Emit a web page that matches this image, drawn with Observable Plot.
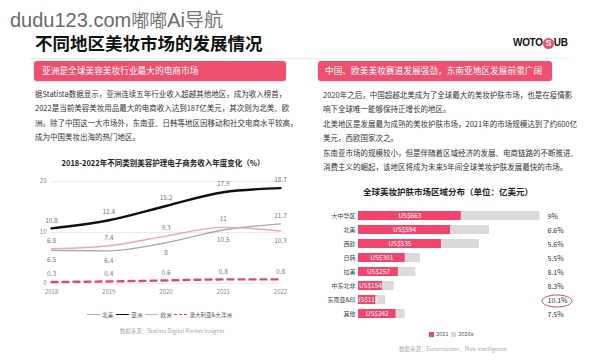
<!DOCTYPE html>
<html><head><meta charset="utf-8">
<script src="https://cdn.jsdelivr.net/npm/d3@7"></script>
<script src="https://cdn.jsdelivr.net/npm/@observablehq/plot@0.6"></script>
<style>
body{margin:0;background:#fff;}
#page{position:relative;width:600px;height:360px;background:#fff;overflow:hidden;font-family:"Noto Sans CJK SC","Noto Sans",sans-serif;}
.abs{position:absolute;white-space:nowrap;}
.banner{position:absolute;height:20px;line-height:20px;border-radius:3px;background:#f0506f;color:#fff;font-size:8.7px;box-shadow:0 1px 2px rgba(0,0,0,0.15);white-space:nowrap;}
.para{position:absolute;font-size:7.5px;color:#333;white-space:nowrap;}
.para div{height:14.4px;line-height:14.4px;}
.lg{display:inline-flex;align-items:center;margin-right:3px;}
.sw{display:inline-block;width:13px;margin-right:2px;}
.sq{display:inline-block;width:5px;height:5px;margin-right:2px;}
</style></head><body><div id="page">
<div class="abs" style="left:10px;top:11px;height:18px;font-family:'Liberation Sans','Noto Sans CJK SC',sans-serif;font-size:20px;line-height:18px;color:#6a6a6a;">dudu123.com<span style="font-size:18px;color:#777;">嘟嘟</span>Ai<span style="font-size:19px;color:#777;">导航</span></div>
<div class="abs" style="left:35px;top:34px;font-size:17.5px;line-height:18px;font-weight:700;color:#111;">不同地区美妆市场的发展情况</div>
<div class="abs" style="left:513px;top:37px;font-size:10px;line-height:12px;font-weight:900;color:#111;font-family:'Liberation Sans',sans-serif;letter-spacing:-0.3px;">WOTO<span style="display:inline-block;width:11px;height:11px;border-radius:50%;background:#ef4a72;color:#fff;text-align:center;line-height:11px;font-size:9px;">S</span>UB</div>
<div class="abs" style="left:30px;top:58px;width:540px;height:1px;background:linear-gradient(to right,#dde8ee,#eef3f6);"></div>

<div class="banner" style="left:34px;top:61px;width:244px;padding-left:8px;">亚洲是全球美容美妆行业最大的电商市场</div>
<div class="banner" style="left:318px;top:61px;width:227px;padding-left:7px;">中国、欧美美妆赛道发展强劲，东南亚地区发展前景广阔</div>

<div class="para" style="left:35px;top:87px;">
<div>据Statista数据显示，亚洲连续五年行业收入超越其他地区，成为收入榜首，</div>
<div>2022是当前美容美妆用品最大的电商收入达到187亿美元，其次则为北美、欧</div>
<div>洲。除了中国这一大市场外，东南亚、日韩等地区因移动和社交电商水平较高，</div>
<div>成为中国美妆出海的热门地区。</div>
</div>
<div class="para" style="left:323px;top:88px;">
<div>2020年之后，中国超越北美成为了全球最大的美妆护肤市场，也是在疫情影</div>
<div>响下全球唯一能够保持正增长的地区。</div>
<div>北美地区是发展最为成熟的美妆护肤市场，2021年的市场规模达到了约600亿</div>
<div>美元，西欧国家次之。</div>
<div>东南亚市场的规模较小，但是伴随着区域经济的发展、电商链路的不断推进、</div>
<div>消费主义的崛起，该地区将成为未来5年间全球美妆护肤发展最快的市场。</div>
</div>

<div class="abs" style="left:13px;width:300px;top:158px;text-align:center;font-size:7.5px;line-height:10px;font-weight:700;color:#222;">2018-2022年不同类别美容护理电子商务收入年度变化（%）</div>
<div id="lineChart" class="abs" style="left:0;top:170px;"></div>
<div id="lineLegend" class="abs" style="left:60px;width:202px;top:309px;text-align:center;font-size:5.5px;line-height:8px;color:#555;"></div>
<div class="abs" style="left:72px;width:200px;top:327px;text-align:center;font-size:5.5px;line-height:8px;color:#aaa;">数据来源：Statista Digital Market Insights</div>

<div class="abs" style="left:348px;width:200px;top:186px;text-align:center;font-size:8.5px;line-height:11px;font-weight:700;color:#222;">全球美妆护肤市场区域分布（单位：亿美元）</div>
<div id="barChart" class="abs" style="left:300px;top:200px;"></div>
<div id="barLegend" class="abs" style="left:403px;width:100px;top:330px;text-align:center;font-size:5.5px;line-height:8px;color:#555;"></div>
<div class="abs" style="left:353px;width:200px;top:345px;text-align:center;font-size:5.5px;line-height:8px;color:#aaa;">数据来源：Euromonitor，Mob intelligence</div>
</div>
<script>
// ---- line chart data ----
const years = [2018, 2019, 2020, 2021, 2022];
const seriesNames = ["北美", "亚洲", "欧洲", "澳大利亚&大洋洲"];
const northAmerica = [6.5, 6.4, 8, 10.5, 11.7];
const asia = [10.8, 12.4, 15.2, 17.9, 18.7];
const europe = [6.8, 7.4, 9.3, 11, 10.3];
const oceania = [0.3, 0.4, 0.6, 0.8, 0.8];
const yTicks = [0, 10, 20];

// ---- bar chart data ----
const regions = ["大中华区", "北美", "西欧", "日韩", "拉美", "中东北非", "东南亚&印", "其他"];
const value2021 = [663, 594, 535, 301, 257, 154, 111, 242];
const value2026 = [1170, 845, 780, 400, 370, 230, 175, 300];
const cagr = ["9%", "6.6%", "5.6%", "5.5%", "8.1%", "8.3%", "10.1%", "7.5%"];
const highlightRegion = "东南亚&印";
const barLegendLabels = ["2021", "2026e"];

const seriesValues = [northAmerica, asia, europe, oceania];
const seriesStyle = {
  "北美": {stroke: "#a9a9a9", strokeWidth: 1.4},
  "亚洲": {stroke: "#111111", strokeWidth: 2.4},
  "欧洲": {stroke: "#f3a3b6", strokeWidth: 1.4},
  "澳大利亚&大洋洲": {stroke: "#e2457a", strokeWidth: 2.4, strokeDasharray: "6,5"}
};

const rows = [];
seriesNames.forEach((s, i) => years.forEach((y, j) => {
  let above = true;
  if (s === "北美") above = northAmerica[j] >= europe[j];
  if (s === "欧洲") above = europe[j] > northAmerica[j];
  rows.push({series: s, year: y, value: seriesValues[i][j], above});
}));

const lineMarks = [Plot.gridY(yTicks, {stroke: "#ececec", strokeOpacity: 1})];
seriesNames.forEach(s => {
  lineMarks.push(Plot.line(rows.filter(r => r.series === s), {x: "year", y: "value", curve: "monotone-x", ...seriesStyle[s]}));
});
lineMarks.push(Plot.text(rows.filter(r => r.above), {x: "year", y: "value", text: d => String(d.value), dy: -8, fill: "#777", fontSize: 6.5}));
lineMarks.push(Plot.text(rows.filter(r => !r.above), {x: "year", y: "value", text: d => String(d.value), dy: 10, fill: "#777", fontSize: 6.5}));

const lineChart = Plot.plot({
  width: 300, height: 130,
  marginLeft: 51, marginRight: 20, marginTop: 11, marginBottom: 17,
  style: {fontFamily: "'Noto Sans CJK SC', sans-serif", fontSize: "6px", color: "#888", background: "transparent"},
  x: {domain: [2018, 2022], ticks: years, tickFormat: d => String(d), tickSize: 0, tickPadding: 6, label: null},
  y: {domain: [0, 20], ticks: yTicks, tickSize: 0, tickPadding: 5, label: null},
  marks: lineMarks
});
document.getElementById("lineChart").appendChild(lineChart);

// line legend
const lg = document.getElementById("lineLegend");
seriesNames.forEach(s => {
  const st = seriesStyle[s];
  const item = document.createElement("span");
  item.className = "lg";
  const sw = document.createElement("span");
  sw.className = "sw";
  sw.style.borderTop = `${Math.max(1, st.strokeWidth * 0.8)}px ${st.strokeDasharray ? "dashed" : "solid"} ${st.stroke}`;
  item.appendChild(sw);
  item.appendChild(document.createTextNode(s));
  lg.appendChild(item);
});

// bar chart
const bars = regions.map((r, i) => ({region: r, v2021: value2021[i], v2026: value2026[i], cagr: cagr[i]}));
const xMax = 1200;
const ellipseSymbol = {
  draw(ctx) {
    const rx = 15, ry = 6, k = 0.5523;
    ctx.moveTo(rx, 0);
    ctx.bezierCurveTo(rx, ry * k, rx * k, ry, 0, ry);
    ctx.bezierCurveTo(-rx * k, ry, -rx, ry * k, -rx, 0);
    ctx.bezierCurveTo(-rx, -ry * k, -rx * k, -ry, 0, -ry);
    ctx.bezierCurveTo(rx * k, -ry, rx, -ry * k, rx, 0);
    ctx.closePath();
  }
};
const barChart = Plot.plot({
  width: 300, height: 128,
  marginLeft: 58, marginRight: 56, marginTop: 4.4, marginBottom: 3.7,
  style: {fontFamily: "'Noto Sans CJK SC', sans-serif", fontSize: "6px", color: "#444", background: "transparent"},
  x: {domain: [0, xMax], axis: null},
  y: {domain: regions, padding: 0.33, tickSize: 0, tickPadding: 3, label: null},
  marks: [
    Plot.barX(bars, {y: "region", x: "v2026", fill: "#dadada"}),
    Plot.barX(bars, {y: "region", x: "v2021", fill: "#f0466e"}),
    Plot.text(bars, {y: "region", x: d => d.v2021 / 2, text: d => "US$" + d.v2021, fill: "#fff", fontSize: 6.5}),
    Plot.text(bars, {y: "region", x: () => xMax, text: "cagr", textAnchor: "start", dx: 3, dy: 1, fill: "#333", fontSize: 7}),
    Plot.dot(bars.filter(d => d.region === highlightRegion), {y: "region", x: () => xMax, dx: 12.5, dy: 1, symbol: ellipseSymbol, r: 5, stroke: "#c2506c", strokeWidth: 1, fill: "none"})
  ]
});
document.getElementById("barChart").appendChild(barChart);

const bl = document.getElementById("barLegend");
[["#f0466e", barLegendLabels[0]], ["#dadada", barLegendLabels[1]]].forEach(([c, t]) => {
  const item = document.createElement("span");
  item.className = "lg";
  const sq = document.createElement("span");
  sq.className = "sq";
  sq.style.background = c;
  item.appendChild(sq);
  item.appendChild(document.createTextNode(t));
  bl.appendChild(item);
});
</script>
</body></html>
